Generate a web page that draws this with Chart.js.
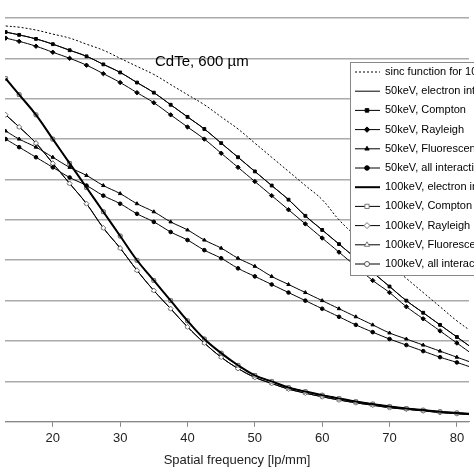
<!DOCTYPE html><html><head><meta charset="utf-8">
<script src="https://cdn.jsdelivr.net/npm/chart.js@4"></script>
<style>html,body{margin:0;padding:0;background:#fff}#w{width:474px;height:474px}</style></head><body><div id="w"><canvas id="c"></canvas></div>
<script>
const freq=[13,15,17.5,20,22.5,25,27.5,30,32.5,35,37.5,40,42.5,45,47.5,50,52.5,55,57.5,60,62.5,65,67.5,70,72.5,75,77.5,80,82.5];
const sinc=[.98,.977,.97,.96,.95,.935,.92,.9,.88,.86,.835,.81,.785,.755,.725,.69,.655,.62,.585,.55,.5,.46,.425,.39,.355,.32,.285,.25,.22];
const up50a=[.965,.958,.948,.935,.92,.905,.885,.865,.84,.815,.785,.755,.725,.69,.655,.62,.585,.55,.51,.475,.44,.405,.37,.335,.30,.27,.24,.21,.18];
const up50b=[.95,.942,.93,.915,.90,.883,.862,.84,.815,.79,.76,.73,.70,.665,.63,.595,.56,.525,.49,.455,.42,.385,.35,.32,.285,.255,.225,.195,.165];
const mid50a=[.72,.70,.68,.655,.63,.61,.585,.565,.54,.52,.495,.475,.45,.43,.405,.385,.36,.34,.32,.30,.28,.26,.24,.22,.205,.19,.175,.16,.145];
const mid50b=[.70,.68,.655,.63,.605,.585,.56,.54,.515,.495,.47,.45,.425,.405,.38,.36,.34,.32,.30,.28,.26,.24,.222,.205,.19,.175,.16,.147,.133];
const up100=[.85,.81,.76,.70,.64,.58,.52,.46,.40,.35,.30,.25,.205,.17,.14,.115,.10,.085,.075,.066,.058,.05,.044,.038,.033,.029,.025,.022,.019];
const lo100=[.76,.73,.69,.64,.59,.54,.48,.43,.375,.325,.28,.235,.195,.16,.132,.11,.095,.081,.071,.062,.054,.047,.041,.035,.031,.027,.023,.02,.017];
const labels=["sinc function for 100 µm pixels","50keV, electron interaction","50keV, Compton","50keV, Rayleigh","50keV, Fluorescence","50keV, all interactions","100keV, electron interaction","100keV, Compton","100keV, Rayleigh","100keV, Fluorescence","100keV, all interactions"];
const xTicks=[20,30,40,50,60,70,80];
const yTicks=[0,.1,.2,.3,.4,.5,.6,.7,.8,.9,1];
const pts=a=>a.map((v,i)=>({x:freq[i],y:v}));
function ds(i,data,o){return Object.assign({label:labels[i],data:pts(data),borderColor:'#000',backgroundColor:'#000',borderWidth:1,pointRadius:0,tension:0.4},o);}
const sets=[
ds(0,sinc,{borderDash:[2,2]}),
ds(1,up50a,{}),
ds(2,up50a,{pointStyle:'rect',pointRadius:2}),
ds(3,up50b,{pointStyle:'rectRot',pointRadius:2.2}),
ds(4,mid50a,{pointStyle:'triangle',pointRadius:2}),
ds(5,mid50b,{pointStyle:'circle',pointRadius:1.8}),
ds(6,up100,{borderWidth:2}),
ds(7,up100,{pointStyle:'rect',pointRadius:2.5,pointBorderColor:'#777',pointBackgroundColor:'#fff'}),
ds(8,lo100,{pointStyle:'rectRot',pointRadius:2.5,pointBorderColor:'#777',pointBackgroundColor:'#fff'}),
ds(9,lo100,{pointStyle:'triangle',pointRadius:2.5,pointBorderColor:'#777',pointBackgroundColor:'#fff'}),
ds(10,up100,{pointStyle:'circle',pointRadius:2,pointBorderColor:'#555',pointBackgroundColor:'#fff'})
];
const overlay={id:'ov',afterDraw(ch){const c=ch.ctx;c.save();
c.font='15px Arial';c.fillStyle='#000';c.textBaseline='middle';c.fillText('CdTe, 600 µm',155,62);
const x0=350,y0=62;c.fillStyle='#fff';c.fillRect(x0,y0,130,213);c.strokeStyle='#888';c.lineWidth=1;c.strokeRect(x0+.5,y0+.5,130,213);
c.font='11px Arial';
sets.forEach((d,i)=>{const y=y0+10+i*19.2;c.strokeStyle='#000';c.lineWidth=d.borderWidth;c.setLineDash(d.borderDash||[]);
c.beginPath();c.moveTo(355,y);c.lineTo(380,y);c.stroke();c.setLineDash([]);
if(d.pointRadius){c.lineWidth=1;
c.fillStyle=d.pointBackgroundColor||'#000';c.strokeStyle=d.pointBorderColor||'#000';Chart.helpers.drawPoint(c,{pointStyle:d.pointStyle,radius:d.pointRadius+0.5,borderWidth:1},367,y);}
c.fillStyle='#000';c.fillText(d.label,385,y);});
c.restore();}};
new Chart(document.getElementById('c'),{type:'line',data:{datasets:sets},plugins:[overlay],
options:{responsive:true,maintainAspectRatio:false,animation:false,layout:{padding:{left:-14,right:-15,top:-5,bottom:2}},
plugins:{legend:{display:false},tooltip:{enabled:false}},
scales:{x:{type:'linear',min:12.9,max:81.8,afterBuildTicks:a=>{a.ticks=xTicks.map(v=>({value:v}))},
grid:{drawOnChartArea:false,tickLength:5,color:'#888'},border:{color:'#888'},
ticks:{color:'#222',font:{family:'Arial',size:13},padding:4},
title:{display:true,text:'Spatial frequency [lp/mm]',color:'#222',font:{family:'Arial',size:13},padding:{top:2}}},
y:{min:0,max:1.032,afterBuildTicks:a=>{a.ticks=yTicks.map(v=>({value:v}))},ticks:{display:false},border:{display:false},
grid:{color:'#aaa',lineWidth:1.5,drawTicks:false}}}}});
</script></body></html>
